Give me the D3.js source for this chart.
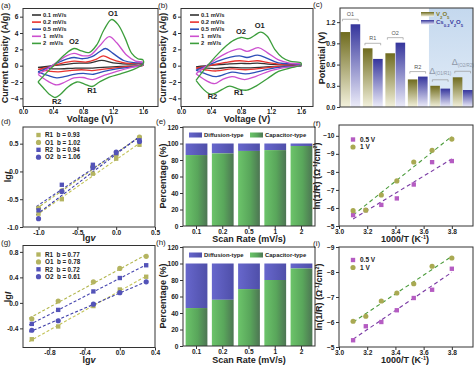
<!DOCTYPE html>
<html>
<head>
<meta charset="utf-8">
<script src="https://cdn.jsdelivr.net/npm/d3@7"></script>
<style>
body { margin: 0; background: #fff; }
text { font-family: "Liberation Sans", Arial, sans-serif; }
</style>
</head>
<body>
<svg id="fig" width="474" height="367"></svg>
<script>
// ---- data ----
var cvRates = ["0.1 mV/s", "0.2 mV/s", "0.5 mV/s", "1  mV/s", "2  mV/s"];
var cvColors = ["#333333", "#e8322e", "#2d4fb8", "#cc4fcf", "#3c9e3c"];

// panel a, V2O5: [voltage, current] for the anodic sweep and the cathodic sweep
var cvA_up = [
  [[0.2,-0.2],[0.4,0.0],[0.6,0.2],[0.75,0.3],[0.9,0.35],[1.05,0.65],[1.2,0.35],[1.4,0.2],[1.6,0.15]],
  [[0.2,-0.45],[0.35,-0.15],[0.5,0.25],[0.68,0.55],[0.85,0.45],[0.98,0.8],[1.07,1.2],[1.18,0.8],[1.35,0.35],[1.6,0.2]],
  [[0.2,-0.75],[0.3,-0.4],[0.45,0.3],[0.6,0.85],[0.68,1.0],[0.8,0.85],[0.92,1.1],[1.02,1.7],[1.1,2.1],[1.2,1.5],[1.35,0.6],[1.5,0.35],[1.6,0.3]],
  [[0.2,-1.05],[0.3,-0.55],[0.45,0.4],[0.58,1.2],[0.68,1.5],[0.8,1.2],[0.9,1.3],[1.02,2.4],[1.15,3.55],[1.25,2.8],[1.38,1.3],[1.5,0.55],[1.6,0.4]],
  [[0.2,-2.0],[0.3,-1.0],[0.42,0.1],[0.55,1.3],[0.68,2.1],[0.78,1.8],[0.88,1.6],[0.98,2.5],[1.08,4.4],[1.18,5.65],[1.27,5.0],[1.36,3.4],[1.45,1.5],[1.53,0.85],[1.6,0.7]]
];
var cvA_down = [
  [[1.6,0.05],[1.3,-0.1],[1.0,-0.25],[0.9,-0.3],[0.7,-0.3],[0.45,-0.4],[0.3,-0.3],[0.2,-0.2]],
  [[1.6,0.05],[1.4,-0.1],[1.2,-0.3],[1.05,-0.45],[0.92,-0.6],[0.78,-0.5],[0.62,-0.6],[0.47,-0.75],[0.33,-0.65],[0.2,-0.45]],
  [[1.6,0.1],[1.45,-0.15],[1.25,-0.4],[1.08,-0.7],[0.94,-1.05],[0.8,-0.95],[0.66,-1.1],[0.55,-1.35],[0.45,-1.5],[0.33,-1.2],[0.2,-0.75]],
  [[1.6,0.1],[1.45,-0.2],[1.25,-0.7],[1.08,-1.2],[0.93,-1.7],[0.8,-1.45],[0.68,-1.5],[0.56,-2.0],[0.45,-2.35],[0.33,-1.9],[0.2,-1.05]],
  [[1.6,0.2],[1.45,-0.55],[1.3,-1.0],[1.15,-1.4],[1.02,-2.0],[0.92,-2.55],[0.82,-2.25],[0.72,-2.0],[0.6,-2.6],[0.5,-3.5],[0.43,-3.9],[0.35,-3.5],[0.27,-2.7],[0.2,-2.0]]
];

// panel b, Cs0.2V2O5
var cvB_up = [
  [[0.2,-0.15],[0.4,0.05],[0.6,0.18],[0.8,0.28],[0.9,0.25],[1.02,0.32],[1.2,0.15],[1.6,0.02]],
  [[0.2,-0.3],[0.4,0.05],[0.6,0.4],[0.78,0.6],[0.9,0.5],[1.02,0.6],[1.15,0.4],[1.35,0.15],[1.6,0.05]],
  [[0.2,-0.55],[0.32,-0.1],[0.5,0.6],[0.66,1.05],[0.78,1.2],[0.88,1.0],[1.02,1.3],[1.15,0.9],[1.3,0.35],[1.6,0.1]],
  [[0.2,-1.0],[0.3,-0.3],[0.45,0.7],[0.62,1.6],[0.78,2.05],[0.88,1.75],[1.03,2.2],[1.15,1.6],[1.3,0.7],[1.45,0.3],[1.6,0.2]],
  [[0.2,-1.8],[0.3,-0.6],[0.4,0.5],[0.5,1.5],[0.6,2.4],[0.7,3.1],[0.8,3.45],[0.9,3.3],[0.98,3.7],[1.06,4.1],[1.15,3.6],[1.25,2.0],[1.35,1.0],[1.45,0.55],[1.6,0.35]]
];
var cvB_down = [
  [[1.6,-0.02],[1.2,-0.12],[0.85,-0.28],[0.65,-0.22],[0.45,-0.35],[0.2,-0.15]],
  [[1.6,-0.02],[1.3,-0.1],[1.1,-0.3],[0.86,-0.5],[0.68,-0.4],[0.47,-0.65],[0.32,-0.5],[0.2,-0.3]],
  [[1.6,0.0],[1.35,-0.15],[1.15,-0.45],[1.0,-0.8],[0.86,-1.0],[0.68,-0.8],[0.47,-1.35],[0.33,-1.0],[0.2,-0.55]],
  [[1.6,0.05],[1.4,-0.2],[1.2,-0.6],[1.0,-1.3],[0.85,-1.7],[0.68,-1.35],[0.55,-1.7],[0.45,-2.2],[0.33,-1.8],[0.2,-1.0]],
  [[1.6,0.1],[1.45,-0.3],[1.3,-0.7],[1.15,-1.6],[1.0,-2.5],[0.88,-3.0],[0.78,-2.9],[0.65,-2.5],[0.55,-2.9],[0.45,-3.4],[0.38,-3.45],[0.3,-2.9],[0.2,-1.8]]
];

// panel c
var potGroups = ["O1", "R1", "O2", "R2", "dO1R1", "dO2R2"];
var potV2O5 = [1.06, 0.83, 0.76, 0.39, 0.30, 0.42];
var potCs = [1.17, 0.68, 0.91, 0.43, 0.26, 0.24];

// panels d, g
var lgv = [-1, -0.7, -0.3, 0, 0.3];
var peakNames = ["R1", "O1", "R2", "O2"];
var bD = ["0.93", "1.02", "0.94", "1.06"];
var lgiD = [
  [-0.76, -0.5, -0.04, 0.23, 0.48],
  [-0.66, -0.35, 0.09, 0.3, 0.62],
  [-0.7, -0.24, 0.12, 0.33, 0.56],
  [-0.85, -0.36, 0.07, 0.35, 0.54]
];
var bG = ["0.77", "0.78", "0.72", "0.61"];
var lgiG = [
  [-0.57, -0.37, -0.05, 0.21, 0.41],
  [-0.25, 0.03, 0.33, 0.54, 0.73],
  [-0.33, -0.11, 0.18, 0.39, 0.59],
  [-0.43, -0.28, -0.02, 0.16, 0.33]
];

// panels e, h
var scanRates = ["0.1", "0.2", "0.5", "1", "2"];
var capE = [86, 88, 91, 92, 97];
var capH = [46, 56, 69, 80, 94];

// panels f, i
var invT = [3.1, 3.19, 3.3, 3.41, 3.53, 3.66, 3.8];
var lnF05 = [-5.6, -5.88, -6.17, -6.53, -7.3, -8.54, -8.6];
var lnF1 = [-5.85, -5.88, -6.72, -7.5, -8.55, -9.2, -9.82];
var lnI05 = [-5.27, -5.83, -6.0, -6.47, -6.96, -7.29, -8.13];
var lnI1 = [-6.03, -6.23, -6.84, -7.16, -7.53, -8.23, -8.56];

// ---- drawing ----
var svg = d3.select("#fig");
var ink = "#222";
var olive = "#b4b460", blueM = "#5353b8";
var purpM = "#b55cc2";

var defs = svg.append("defs");
function grad(id, x2, y2, stops) {
  var g = defs.append("linearGradient").attr("id", id)
    .attr("x1", 0).attr("y1", 0).attr("x2", x2).attr("y2", y2);
  stops.forEach(function(s) {
    g.append("stop").attr("offset", s[0]).attr("stop-color", s[1]);
  });
}
grad("gOlive", 0, 1, [["0%", "#6f6b1e"], ["100%", "#f3f1dc"]]);
grad("gBlue", 0, 1, [["0%", "#35359c"], ["100%", "#ececf9"]]);
grad("gShade", 0, 1, [["0%", "#c4d8ee"], ["100%", "#e2ecf7"]]);
grad("gCap", 1, 0, [["0%", "#6cc46a"], ["55%", "#59a65b"], ["100%", "#4d7553"]]);
grad("gDif", 1, 0, [["0%", "#6767cc"], ["100%", "#4f4fa9"]]);

function fmt1(d) { return d.toFixed(1); }

function axes(x, y, xt, yt, xf, yf) {
  var xb = svg.append("g").attr("transform", "translate(0," + y.range()[0] + ")")
    .call(d3.axisBottom(x).tickValues(xt).tickFormat(xf).tickSize(3).tickPadding(0));
  var yl = svg.append("g").attr("transform", "translate(" + x.range()[0] + ",0)")
    .call(d3.axisLeft(y).tickValues(yt).tickFormat(yf).tickSize(3).tickPadding(1.5));
  [xb, yl].forEach(function(a) {
    a.select(".domain").remove();
    a.selectAll("line").attr("stroke", "#333");
    a.selectAll("text").attr("font-size", 6.6).attr("font-weight", "bold").attr("fill", ink)
      .attr("font-family", '"Liberation Sans", Arial, sans-serif');
  });
}

function frame(x, y) {
  var r = x.range(), q = y.range();
  svg.append("rect").attr("x", r[0]).attr("y", q[1])
    .attr("width", r[1] - r[0]).attr("height", q[0] - q[1])
    .attr("fill", "none").attr("stroke", "#333").attr("stroke-width", 1);
}

function ytitle(x, cy, parts) {
  var t = svg.append("text").attr("transform", "translate(" + x + "," + cy + ") rotate(-90)")
    .attr("text-anchor", "middle").attr("font-size", 9).attr("font-weight", "bold").attr("fill", ink);
  addParts(t, parts);
}
function xtitle(cx, y, parts) {
  var t = svg.append("text").attr("x", cx).attr("y", y)
    .attr("text-anchor", "middle").attr("font-size", 9).attr("font-weight", "bold").attr("fill", ink);
  addParts(t, parts);
}
function addParts(t, parts) {
  parts.forEach(function(p) {
    var s = t.append("tspan").text(p[0]);
    if (p[1] == "i") s.attr("font-style", "italic");
    if (p[1] == "sup") s.attr("baseline-shift", "super").attr("font-size", 5.5);
    if (p[1] == "sub") s.attr("baseline-shift", "sub").attr("font-size", 4.3);
  });
}

function label(x, y, s) {
  svg.append("text").attr("x", x).attr("y", y).attr("font-size", 8).attr("fill", ink).text(s);
}

// CV panels
function cvPanel(x, y, ups, downs, legX, peaks) {
  var line = d3.line().x(function(d) { return x(d[0]); }).y(function(d) { return y(d[1]); })
    .curve(d3.curveCatmullRom.alpha(0.5));
  ups.forEach(function(u, i) {
    svg.append("path").attr("d", line(u.concat(downs[i])))
      .attr("fill", "none").attr("stroke", cvColors[i]).attr("stroke-width", 1.3);
  });
  cvRates.forEach(function(r, i) {
    var yy = 15 + i * 7.1;
    svg.append("line").attr("x1", legX).attr("x2", legX + 9).attr("y1", yy).attr("y2", yy)
      .attr("stroke", cvColors[i]).attr("stroke-width", 1.6);
    svg.append("text").attr("x", legX + 11).attr("y", yy + 2).attr("font-size", 5.8)
      .attr("font-weight", "bold").attr("fill", ink).attr("xml:space", "preserve").text(r);
  });
  peaks.forEach(function(p) {
    svg.append("text").attr("x", x(p[1])).attr("y", y(p[2])).attr("text-anchor", "middle")
      .attr("font-size", 7.5).attr("font-weight", "bold").attr("fill", ink).text(p[0]);
  });
  axes(x, y, [0, 0.4, 0.8, 1.2, 1.6], [-4, -2, 0, 2, 4, 6], fmt1, d3.format("d"));
  frame(x, y);
}

var xa = d3.scaleLinear().domain([0, 1.8]).range([23, 158]);
var ya = d3.scaleLinear().domain([-5, 7]).range([106.5, 8.5]);
cvPanel(xa, ya, cvA_up, cvA_down, 32,
  [["O1", 1.2, 6.1], ["O2", 0.68, 2.6], ["R1", 0.92, -3.3], ["R2", 0.45, -4.65]]);
ytitle(8, 58, [["Current Density (A/g)"]]);
xtitle(90, 122, [["Voltage (V)"]]);

var xb = d3.scaleLinear().domain([0, 1.76]).range([181, 313]);
var yb = d3.scaleLinear().domain([-5, 7]).range([106.5, 8.5]);
cvPanel(xb, yb, cvB_up, cvB_down, 190,
  [["O1", 1.05, 4.6], ["O2", 0.8, 3.9], ["R1", 0.77, -3.6], ["R2", 0.42, -4.1]]);
ytitle(166, 58, [["Current Density (A/g)"]]);
xtitle(247, 122, [["Voltage (V)"]]);

// panel c
var xc = d3.scaleBand().domain(potGroups).range([340, 473]).paddingInner(0.12).paddingOuter(0.02);
var xc2 = d3.scaleBand().domain([0, 1]).range([0, xc.bandwidth()]).paddingInner(0.06);
var yc = d3.scaleLinear().domain([0, 1.4]).range([107, 8]);
var shadeX = xc("dO1R1") - xc.step() * xc.paddingInner() / 2;
svg.append("rect").attr("x", shadeX).attr("y", yc(1.4)).attr("width", 473 - shadeX)
  .attr("height", yc(0) - yc(1.4)).attr("fill", "url(#gShade)");
[potV2O5, potCs].forEach(function(vals, k) {
  svg.selectAll(null).data(vals).enter().append("rect")
    .attr("x", function(d, i) { return xc(potGroups[i]) + xc2(k); })
    .attr("y", function(d) { return yc(d); })
    .attr("width", xc2.bandwidth())
    .attr("height", function(d) { return yc(0) - yc(d); })
    .attr("fill", k == 0 ? "url(#gOlive)" : "url(#gBlue)");
});
var peakLabels = [["O1"], ["R1"], ["O2"], ["R2"], ["Δ", "(O1/R1)"], ["Δ", "(O2/R2)"]];
potGroups.forEach(function(g, i) {
  var top = yc(Math.max(potV2O5[i], potCs[i]));
  var x0 = xc(g) + 2, x1 = xc(g) + xc.bandwidth() - 2;
  var delta = peakLabels[i].length > 1;
  var by = top - (delta ? 6 : 5);
  svg.append("path").attr("d", "M" + x0 + "," + (by + 2) + "V" + by + "H" + x1 + "V" + (by + 2))
    .attr("fill", "none").attr("stroke", "#9a9a9a").attr("stroke-width", 0.7);
  var t = svg.append("text").attr("x", (x0 + x1) / 2).attr("y", top - (delta ? 12 : 8))
    .attr("text-anchor", "middle").attr("fill", delta ? "#8e98a8" : "#555");
  if (delta) {
    t.append("tspan").attr("font-size", 9).text(peakLabels[i][0]);
    t.append("tspan").attr("font-size", 4.5).attr("dy", 1.5).text(peakLabels[i][1]);
  } else {
    t.attr("font-size", 5.5).text(peakLabels[i][0]);
  }
});
[["url(#gOlive)", [["V"], ["2", "sub"], ["O"], ["5", "sub"]], "#7f7a2a"],
 ["url(#gBlue)", [["Cs"], ["0.2", "sub"], ["V"], ["2", "sub"], ["O"], ["5", "sub"]], "#3a3a9e"]].forEach(function(l, i) {
  var yy = 14 + i * 8;
  svg.append("rect").attr("x", 421).attr("y", yy - 2).attr("width", 13).attr("height", 4.5).attr("fill", l[0]);
  var t = svg.append("text").attr("x", 436).attr("y", yy + 2.2).attr("font-size", 6)
    .attr("font-weight", "bold").attr("fill", l[2]);
  addParts(t, l[1]);
});
axes(xc, yc, [], [0, 0.3, 0.6, 0.9, 1.2], null, fmt1);
frame(xc, yc);
ytitle(325, 58, [["Potential (V)"]]);

// panels d, g
var markColors = [olive, olive, blueM, blueM];
var lineColors = ["#c4c45a", "#b2b64e", "#4848b0", "#3f3fa8"];
function fit(xs, ys) {
  var mx = d3.mean(xs), my = d3.mean(ys);
  var sxy = d3.sum(xs, function(v, i) { return (v - mx) * (ys[i] - my); });
  var sxx = d3.sum(xs, function(v) { return (v - mx) * (v - mx); });
  var b = sxy / sxx;
  return [b, my - b * mx];
}
function symbol(x, y, shape, color) {
  var t = shape == "s" ? d3.symbolSquare : d3.symbolCircle;
  svg.append("path").attr("d", d3.symbol().type(t).size(shape == "s" ? 19 : 21)())
    .attr("transform", "translate(" + x + "," + y + ")").attr("fill", color);
}
function lgPanel(x, y, vals, bs, legY, xt, yt) {
  vals.forEach(function(v, k) {
    var f = fit(lgv, v);
    var x0 = -1.03, x1 = 0.32;
    svg.append("line").attr("x1", x(x0)).attr("x2", x(x1))
      .attr("y1", y(f[1] + f[0] * x0)).attr("y2", y(f[1] + f[0] * x1))
      .attr("stroke", lineColors[k]).attr("stroke-width", 1.1).attr("stroke-dasharray", "3,2");
  });
  vals.forEach(function(v, k) {
    v.forEach(function(d, i) { symbol(x(lgv[i]), y(d), k % 2 == 0 ? "s" : "c", markColors[k]); });
  });
  peakNames.forEach(function(p, k) {
    var yy = legY + k * 7.4;
    symbol(38.5, yy, k % 2 == 0 ? "s" : "c", markColors[k]);
    svg.append("text").attr("x", 45).attr("y", yy + 2.2).attr("font-size", 6.3).attr("font-weight", "bold")
      .attr("fill", ink).attr("xml:space", "preserve").text(p + "  b = " + bs[k]);
  });
  axes(x, y, xt, yt, fmt1, fmt1);
  frame(x, y);
}
var xd = d3.scaleLinear().domain([-1.2, 0.5]).range([23, 155]);
var yd = d3.scaleLinear().domain([-1.0, 0.8]).range([227, 127]);
lgPanel(xd, yd, lgiD, bD, 135, [-1, -0.5, 0, 0.5], [-1, -0.5, 0, 0.5]);
ytitle(11, 177, [["lg"], ["I", "i"]]);
xtitle(89, 241, [["lg"], ["v", "i"]]);

var xg = d3.scaleLinear().domain([-1.1, 0.4]).range([23, 155]);
var yg = d3.scaleLinear().domain([-0.7, 0.9]).range([347.5, 245.5]);
lgPanel(xg, yg, lgiG, bG, 254.5, [-0.8, -0.4, 0, 0.4], [-0.4, 0, 0.4, 0.8]);
ytitle(11, 297, [["lg"], ["I", "i"]]);
xtitle(89, 363, [["lg"], ["v", "i"]]);

// panels e, h
function pctPanel(y, cap, legY) {
  var x = d3.scaleBand().domain(scanRates).range([183, 315]).paddingInner(0.17).paddingOuter(0.1);
  svg.selectAll(null).data(cap).enter().append("rect")
    .attr("x", function(d, i) { return x(scanRates[i]); })
    .attr("y", function(d) { return y(100); })
    .attr("width", x.bandwidth())
    .attr("height", function(d) { return y(d) - y(100); })
    .attr("fill", "url(#gDif)");
  svg.selectAll(null).data(cap).enter().append("rect")
    .attr("x", function(d, i) { return x(scanRates[i]); })
    .attr("y", function(d) { return y(d); })
    .attr("width", x.bandwidth())
    .attr("height", function(d) { return y(0) - y(d); })
    .attr("fill", "url(#gCap)");
  [["url(#gDif)", "Diffusion-type", 189], ["url(#gCap)", "Capacitor-type", 250]].forEach(function(l) {
    svg.append("rect").attr("x", l[2]).attr("y", legY - 2.5).attr("width", 13).attr("height", 5).attr("fill", l[0]);
    svg.append("text").attr("x", l[2] + 15).attr("y", legY + 2.2).attr("font-size", 5.9)
      .attr("font-weight", "bold").attr("fill", ink).text(l[1]);
  });
  axes(x, y, scanRates, [0, 20, 40, 60, 80, 100, 120], null, d3.format("d"));
  frame(x, y);
}
var ye = d3.scaleLinear().domain([0, 120]).range([226, 127]);
pctPanel(ye, capE, 135);
ytitle(166, 176, [["Percentage (%)"]]);
xtitle(249, 242, [["Scan Rate (mV/s)"]]);

var yh = d3.scaleLinear().domain([0, 120]).range([346, 247]);
pctPanel(yh, capH, 255);
ytitle(166, 296, [["Percentage (%)"]]);
xtitle(249, 363, [["Scan Rate (mV/s)"]]);

// panels f, i
function arrPanel(x, y, s05, s1, legY, yt) {
  [[s1, "#4c9c3c"], [s05, "#7a3aa4"]].forEach(function(s) {
    var f = fit(invT, s[0]);
    svg.append("line").attr("x1", x(3.1)).attr("x2", x(3.8))
      .attr("y1", y(f[1] + f[0] * 3.1)).attr("y2", y(f[1] + f[0] * 3.8))
      .attr("stroke", s[1]).attr("stroke-width", 1.1).attr("stroke-dasharray", "4,3");
  });
  s05.forEach(function(d, i) { symbol(x(invT[i]), y(d), "s", purpM); });
  s1.forEach(function(d, i) { symbol(x(invT[i]), y(d), "c", "#a9a952"); });
  symbol(353, legY, "s", purpM);
  symbol(353, legY + 7.5, "c", "#a9a952");
  svg.append("text").attr("x", 360).attr("y", legY + 2.3).attr("font-size", 6.5).attr("font-weight", "bold")
    .attr("fill", ink).text("0.5 V");
  svg.append("text").attr("x", 360).attr("y", legY + 9.8).attr("font-size", 6.5).attr("font-weight", "bold")
    .attr("fill", ink).text("1 V");
  axes(x, y, [3.0, 3.2, 3.4, 3.6, 3.8], yt, fmt1, d3.format("d"));
  frame(x, y);
}
var xf = d3.scaleLinear().domain([3.0, 3.95]).range([339, 473]);
var yf = d3.scaleLinear().domain([-5, -10.6]).range([226, 125]);
arrPanel(xf, yf, lnF05, lnF1, 139.5, [-5, -6, -7, -8, -9, -10]);
ytitle(320, 176, [["ln(1/R) (Ω"], ["-1", "sup"], ["/cm"], ["2", "sup"], [")"]]);
xtitle(405, 242, [["1000/T (K"], ["-1", "sup"], [")"]]);

var xi = d3.scaleLinear().domain([3.0, 3.95]).range([339, 473]);
var yi = d3.scaleLinear().domain([-5, -9]).range([347, 247]);
arrPanel(xi, yi, lnI05, lnI1, 260, [-5, -6, -7, -8, -9]);
ytitle(322, 297, [["ln(1/R) (Ω"], ["-1", "sup"], ["/cm"], ["2", "sup"], [")"]]);
xtitle(405, 363, [["1000/T (K"], ["-1", "sup"], [")"]]);

// panel letters
label(1, 8, "(a)");
label(158, 8, "(b)");
label(313, 7, "(c)");
label(1, 124, "(d)");
label(156, 124, "(e)");
label(313, 126, "(f)");
label(1, 245, "(g)");
label(156, 245, "(h)");
label(313, 246, "(i)");
</script>
</body>
</html>
